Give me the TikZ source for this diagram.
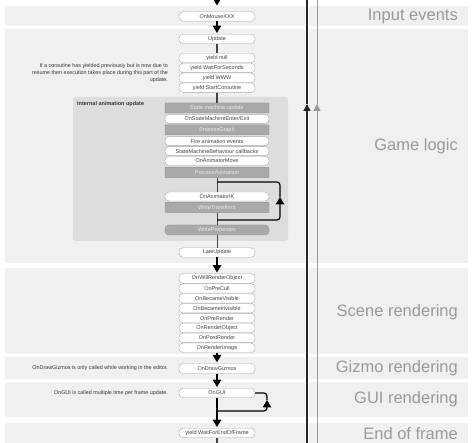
\documentclass[tikz,border=0pt]{standalone}
\usepackage{fontspec}
\setmainfont{Liberation Sans}
\usetikzlibrary{positioning,arrows.meta}
\definecolor{bandgray}{HTML}{F0F0F0}
\definecolor{boxgray}{HTML}{DDDDDD}
\definecolor{darknode}{HTML}{A9A9A9}
\definecolor{labelgray}{HTML}{9A9A9A}
\definecolor{linegray}{HTML}{444444}
\definecolor{rimgray}{HTML}{ABABAB}

\tikzset{
	band/.style={fill=bandgray},
	evt/.style={draw=rimgray, fill=white, rounded corners=4pt, minimum width=76pt, minimum height=9.5pt, inner sep=0pt, text=linegray, font=\fontsize{5.5}{6}\selectfont},
	anim/.style={evt, minimum width=104pt, minimum height=9pt},
	animdark/.style={anim, fill=darknode, draw=darknode!85!black, rounded corners=0.5pt, minimum height=10pt, text=white!92!black},
	flow/.style={-{Triangle[length=7.5pt,width=8.5pt]}, line width=1.6pt, black, shorten >=1pt},
	link/.style={line width=1.3pt, linegray},
	section/.style={anchor=base east, text=labelgray, inner sep=0pt, font=\fontsize{16.5}{18}\selectfont},
	remark/.style={anchor=east, align=right, text=black!80, inner sep=0pt, font=\fontsize{5.4}{6.7}\selectfont},
}

\begin{document}
\begin{tikzpicture}[x=1pt, y=-1pt]
			\useasboundingbox (0,0) rectangle (474,443);
			\foreach \top/\bot in {6/26, 29/263, 268/354, 357/379, 382/417, 423/445} {
				\fill[band] (5,\top) rectangle (305,\bot);
				\fill[band] (309,\top) rectangle (468,\bot);
			}
			\fill[boxgray, rounded corners=3pt] (73,97) rectangle (288,241);
			\node[anchor=west, inner sep=0pt, font=\fontsize{5.5}{6}\selectfont\bfseries, text=black!80] (animtitle) at (77,104) {Internal animation update};

			\node[section] (input) at (458,21) {Input events};
			\node[section] (logic) at (458,151) {Game logic};
			\node[section] (scene) at (458,317) {Scene rendering};
			\node[section] (gizmo) at (458,373) {Gizmo rendering};
			\node[section] (guisec) at (458,404) {GUI rendering};
			\node[section] (endsec) at (458,439) {End of frame};

			\node[remark] (coronote) at (168,73) {If a coroutine has yielded previously but is now due to\\resume then execution takes place during this part of the\\update.};
			\node[remark] (gizmonote) at (168,368.5) {OnDrawGizmos is only called while working in the editor.};
			\node[remark] (guinote) at (168,393) {OnGUI is called multiple time per frame update.};

			\node[evt] (mouse) at (217,16.5) {OnMouseXXX};
			\node[evt] (update) at (217,39) {Update};
			\node[evt] (ynull) at (217,58) {yield null};
			\node[evt, below=0pt of ynull] (ywait) {yield WaitForSeconds};
			\node[evt, below=0pt of ywait] (ywww) {yield WWW};
			\node[evt, below=0pt of ywww] (ystart) {yield StartCoroutine};

			\node[animdark] (smupdate) at (217,108) {State machine update};
			\node[anim, below=1pt of smupdate] (smenter) {OnStateMachineEnter/Exit};
			\node[animdark, below=1pt of smenter] (procgraph) {ProcessGraph};
			\node[anim, below=1.5pt of procgraph] (fire) {Fire animation events};
			\node[anim, below=0.5pt of fire] (smb) {StateMachineBehaviour callbacks};
			\node[anim, below=0.5pt of smb] (animmove) {OnAnimatorMove};
			\node[animdark, below=1.5pt of animmove] (procanim) {ProcessAnimation};
			\node[anim] (animik) at (217,196.5) {OnAnimatorIK};
			\node[animdark, below=1pt of animik] (writetf) {WriteTransform};
			\node[animdark, rounded corners=4pt] (writeprops) at (217,230) {WriteProperties};

			\node[evt] (late) at (217,252.5) {LateUpdate};
			\node[evt] (willrender) at (217,278.5) {OnWillRenderObject};
			\node[evt, below=0pt of willrender] (precull) {OnPreCull};
			\node[evt, below=0pt of precull] (visible) {OnBecameVisible};
			\node[evt, below=0pt of visible] (invisible) {OnBecameInvisible};
			\node[evt, below=0pt of invisible] (prerender) {OnPreRender};
			\node[evt, below=0pt of prerender] (renderobj) {OnRenderObject};
			\node[evt, below=0pt of renderobj] (postrender) {OnPostRender};
			\node[evt, below=0pt of postrender] (renderimg) {OnRenderImage};
			\node[evt, minimum height=10pt] (gizmos) at (217,368.5) {OnDrawGizmos};
			\node[evt] (gui) at (217,393) {OnGUI};
			\node[evt] (endframe) at (217,433) {yield WaitForEndOfFrame};

			\coordinate (entry) at (217,-4);
			\coordinate (entryend) at (217,5.5);
			\coordinate (exit) at (217,446);
			\draw[flow, shorten >=0pt] (entry) -- (entryend);
			\draw[flow] (mouse) -- (update);
			\draw[link] (update) -- (ynull);
			\draw[link] (ystart) -- (smupdate);
			\draw[link, line width=1pt] (procanim) -- (animik);
			\draw[link, line width=1pt] (writetf) -- (writeprops);
			\draw[link, line width=1pt] (writeprops) -- (late);
			\draw[flow] (late) -- (willrender);
			\draw[flow] (renderimg) -- (gizmos);
			\draw[flow] (gizmos) -- (gui);
			\draw[flow] (gui) -- (endframe);
			\draw[link] (endframe) -- (exit);

			\coordinate (iktop) at (217,182);
			\coordinate (ikright) at (280,197);
			\coordinate (ikbottom) at (217,220);
			\draw[flow, line width=1.2pt, shorten >=0pt, rounded corners=3pt] (ikbottom) -| (ikright);
			\draw[line width=1.2pt, rounded corners=3pt] (ikright) |- (iktop);

			\coordinate (guibottom) at (217,411);
			\coordinate (guiright) at (267,400);
			\draw[flow, line width=1.2pt, shorten >=0pt, rounded corners=3pt] (guibottom) -| (guiright);
			\draw[line width=1.2pt, rounded corners=3pt] (guiright) |- (gui.east);

			\coordinate (framebot) at (307,446);
			\coordinate (framemid) at (307,104);
			\coordinate (frametop) at (307,-3);
			\draw[-{Triangle[length=7pt,width=7pt]}, line width=1.3pt, black!85] (framebot) -- (framemid);
			\draw[line width=1.3pt, black!85] (framemid) -- (frametop);
			\coordinate (corobot) at (317,446);
			\coordinate (coromid) at (317,104);
			\coordinate (corotop) at (317,-3);
			\draw[-{Triangle[length=7pt,width=7pt]}, line width=1pt, labelgray] (corobot) -- (coromid);
			\draw[line width=1pt, labelgray] (coromid) -- (corotop);
		\end{tikzpicture}
\end{document}
